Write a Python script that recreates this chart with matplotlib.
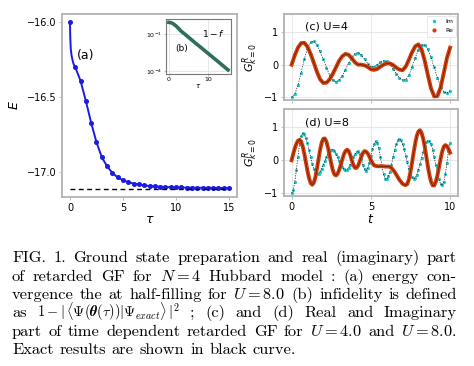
import numpy as np
import matplotlib.pyplot as plt
from matplotlib.lines import Line2D
from matplotlib.ticker import MultipleLocator, NullLocator

# ---- (a) energy convergence, U = 8 ----
tau = np.arange(0, 15.01, 0.5)
energy = [-16.00, -16.30, -16.39, -16.525, -16.67, -16.80, -16.90, -16.96,
          -17.005, -17.035, -17.053, -17.067, -17.076, -17.082, -17.088,
          -17.092, -17.095, -17.097, -17.099, -17.100, -17.101, -17.102,
          -17.103, -17.103, -17.104, -17.104, -17.104, -17.105, -17.105,
          -17.105, -17.106]
# extra read-off points of the solid curve near tau = 0
tau_head = [0.0, 0.03, 0.08, 0.15, 0.25, 0.35]
energy_head = [-16.00, -16.10, -16.18, -16.22, -16.255, -16.28]
e_exact = -17.11

# ---- (b) infidelity 1 - f ----
infidelity = [0.95, 0.90, 0.75, 0.58, 0.42, 0.29, 0.19, 0.141, 0.105, 0.076,
              0.056, 0.041, 0.030, 0.022, 0.016, 0.012, 0.0089, 0.0065,
              0.0048, 0.0035, 0.0026, 0.0019, 0.0014, 0.00103, 0.00076,
              0.00056, 0.00041, 0.00030, 0.00022, 0.00016, 0.00012]

# ---- (c) G^R_{k=0}(t), U = 4 ----
t_c = np.arange(0, 10.01, 0.2)
im_u4 = [-1.00, -0.90, -0.63, -0.24, 0.17, 0.50, 0.69, 0.71, 0.60, 0.41,
         0.16, -0.09, -0.32, -0.47, -0.52, -0.47, -0.34, -0.15, 0.05, 0.23,
         0.34, 0.37, 0.30, 0.17, 0.03, -0.06, -0.06, 0.00, 0.07, 0.12,
         0.10, 0.01, -0.12, -0.27, -0.40, -0.47, -0.46, -0.32, -0.07, 0.21,
         0.46, 0.60, 0.60, 0.47, 0.22, -0.08, -0.40, -0.67, -0.83, -0.87,
         -0.80]
re_u4 = [0.00, 0.29, 0.52, 0.66, 0.67, 0.55, 0.33, 0.06, -0.22, -0.45,
         -0.56, -0.55, -0.45, -0.28, -0.08, 0.12, 0.26, 0.33, 0.30, 0.19,
         0.07, 0.00, 0.00, -0.02, -0.07, -0.14, -0.16, -0.13, -0.06, 0.00,
         0.04, 0.04, -0.01, -0.09, -0.15, -0.17, -0.06, 0.15, 0.38, 0.56,
         0.62, 0.47, 0.12, -0.32, -0.73, -0.97, -0.96, -0.70, -0.26, 0.20,
         0.52]

# ---- (d) G^R_{k=0}(t), U = 8 ----
t_d = np.arange(0, 10.001, 0.1)
im_u8 = [-1.00, -0.91, -0.66, -0.29, 0.11, 0.48, 0.73, 0.82, 0.78, 0.67,
         0.51, 0.31, 0.09, -0.11, -0.27, -0.38, -0.42, -0.40, -0.34, -0.25,
         -0.14, -0.02, 0.10, 0.20, 0.28, 0.31, 0.32, 0.28, 0.20, 0.10,
         -0.01, -0.11, -0.21, -0.27, -0.30, -0.28, -0.22, -0.13, -0.02, 0.10,
         0.19, 0.25, 0.27, 0.19, 0.03, -0.14, -0.27, -0.31, -0.24, -0.08,
         0.12, 0.33, 0.49, 0.57, 0.53, 0.37, 0.11, -0.18, -0.42, -0.56,
         -0.57, -0.49, -0.34, -0.14, 0.09, 0.30, 0.48, 0.60, 0.64, 0.60,
         0.50, 0.34, 0.14, -0.06, -0.26, -0.42, -0.52, -0.56, -0.53, -0.44,
         -0.29, -0.11, 0.08, 0.26, 0.43, 0.54, 0.59, 0.58, 0.49, 0.32,
         0.09, -0.15, -0.39, -0.58, -0.72, -0.76, -0.67, -0.42, -0.07, 0.28,
         0.53]
re_u8 = [0.00, 0.19, 0.36, 0.50, 0.59, 0.62, 0.57, 0.42, 0.20, -0.06,
         -0.32, -0.54, -0.69, -0.74, -0.68, -0.51, -0.25, 0.04, 0.32, 0.54,
         0.65, 0.66, 0.56, 0.37, 0.14, -0.10, -0.30, -0.43, -0.46, -0.41,
         -0.29, -0.14, 0.03, 0.18, 0.28, 0.32, 0.28, 0.16, 0.00, -0.15,
         -0.23, -0.23, -0.16, -0.03, 0.11, 0.22, 0.28, 0.26, 0.21, 0.12,
         0.01, -0.08, -0.15, -0.17, -0.18, -0.18, -0.18, -0.18, -0.18, -0.19,
         -0.19, -0.19, -0.20, -0.23, -0.29, -0.35, -0.43, -0.51, -0.59, -0.65,
         -0.71, -0.74, -0.75, -0.72, -0.58, -0.35, -0.07, 0.23, 0.51, 0.74,
         0.87, 0.91, 0.83, 0.66, 0.41, 0.12, -0.19, -0.45, -0.65, -0.76,
         -0.76, -0.65, -0.46, -0.22, 0.04, 0.26, 0.41, 0.46, 0.43, 0.34,
         0.23]

INFID_EXPR = r'$1-|\,\langle\Psi(\boldsymbol{\theta}(\tau))|\Psi_{exact}\rangle\,|^2$'
caption = [
    ['FIG.', '1.', 'Ground', 'state', 'preparation', 'and', 'real', '(imaginary)', 'part'],
    ['of', 'retarded', 'GF', 'for', '$N=4$', 'Hubbard', 'model', ':', '(a)', 'energy', 'con-'],
    ['vergence', 'the', 'at', 'half-filling', 'for', '$U=8.0$', '(b)', 'infidelity', 'is', 'defined'],
    ['as', INFID_EXPR, ';', '(c)', 'and', '(d)', 'Real', 'and', 'Imaginary'],
    ['part', 'of', 'time', 'dependent', 'retarded', 'GF', 'for', '$U=4.0$', 'and', '$U=8.0$.'],
    ['Exact', 'results', 'are', 'shown', 'in', 'black', 'curve.'],
]

W, H = 474, 366
plt.rcParams['mathtext.fontset'] = 'dejavusans'
fig = plt.figure(figsize=(W / 100, H / 100), dpi=100)

SPINE = '#b2b2b2'
BLUE = '#1c1ce0'
CYAN = '#25c3c6'
ORANGE = '#cf3f0c'


def box(x0, y0, x1, y1):
    # pixel box (left, top, right, bottom) -> figure fraction
    return [x0 / W, 1 - y1 / H, (x1 - x0) / W, (y1 - y0) / H]


def style(ax, size=7):
    for s in ax.spines.values():
        s.set_color(SPINE)
        s.set_linewidth(1.3)
    ax.tick_params(length=2, width=0.6, color=SPINE, labelsize=size, pad=2)


# (a)
ax_a = fig.add_axes(box(62, 14, 237, 197))
style(ax_a)
ax_a.plot(tau_head + list(tau[1:]), energy_head + energy[1:], color=BLUE, lw=1.4)
ax_a.plot(tau, energy, 'o', color=BLUE, ms=2.6)
ax_a.plot([tau[0], tau[-1]], [e_exact, e_exact], '--', color='k', lw=1.0, dashes=(3.5, 2.5))
ax_a.yaxis.set_major_locator(MultipleLocator(0.5))
ax_a.xaxis.set_major_locator(MultipleLocator(5))
ax_a.set_xlabel(r'$\tau$', fontsize=9, labelpad=0)
ax_a.set_ylabel('$E$', fontsize=9, labelpad=4)
ax_a.text(0.085, 0.775, '(a)', transform=ax_a.transAxes, fontsize=9, va='center')

# (b) inset
ax_b = fig.add_axes(box(166, 19, 231, 74))
style(ax_b, 4.5)
for s in ax_b.spines.values():
    s.set_color('#777777')
    s.set_linewidth(0.8)
ax_b.grid(True, color='#dddddd', lw=0.5)
ax_b.semilogy(tau, infidelity, color='#2e6e60', lw=2.6)
ax_b.set_ylim(5.5e-5, 1.8)
ax_b.set_yticks([1e-1, 1e-4])
ax_b.yaxis.set_minor_locator(NullLocator())
ax_b.set_xticks([0, 10])
ax_b.tick_params(length=1.5, pad=1)
ax_b.set_xlabel(r'$\tau$', fontsize=5, labelpad=0)
ax_b.text(0.14, 0.47, '(b)', transform=ax_b.transAxes, fontsize=6.5, va='center')
ax_b.text(0.55, 0.73, '$1-f$', transform=ax_b.transAxes, fontsize=6.5, va='center')

# (c) and (d)
ax_c = fig.add_axes(box(283.7, 14, 458, 100))
ax_d = fig.add_axes(box(283.7, 109, 458, 196))
panels = [(ax_c, t_c, im_u4, re_u4, '(c) U=4'), (ax_d, t_d, im_u8, re_u8, '(d) U=8')]
for ax, t, im, re, name in panels:
    style(ax)
    ax.grid(True, color='#e3e3e3', lw=0.6)
    ax.plot(t, im, '.', color=CYAN, ms=2.6, label='Im')
    ax.plot(t, im, color='k', lw=0.45, dashes=(2, 2))
    ax.plot(t, re, '-', color=ORANGE, lw=2.8)
    ax.plot(t, re, color='#3a0a00', lw=0.35)
    ax.set_xlim(-0.5, 10.5)
    ax.set_ylim(-1.08, 1.55)
    ax.set_yticks([-1, 0, 1])
    ax.set_xticks([0, 5, 10])
    ax.set_ylabel('$G^R_{k=0}$', fontsize=8, labelpad=3)
    ax.text(0.12, 0.85, name, transform=ax.transAxes, fontsize=8, va='center')
ax_c.tick_params(labelbottom=False)
ax_d.set_xlabel('$t$', fontsize=9, labelpad=1)

handles = [Line2D([], [], ls='none', marker='.', color=CYAN, ms=3, label='Im'),
           Line2D([], [], ls='none', marker='.', color=ORANGE, ms=4, label='Re')]
leg = ax_c.legend(handles=handles, loc='upper right', fontsize=4.5, handlelength=1.2,
                  handletextpad=1.2, borderpad=0.5, labelspacing=0.6,
                  borderaxespad=0.3, framealpha=1)
leg.get_frame().set_edgecolor('#dddddd')
leg.get_frame().set_linewidth(0.5)

# caption, justified line by line
CAP_FS = 11.8
MIN_GAP = 6.0
renderer = fig.canvas.get_renderer()
x_left, x_right = 12, 457
baselines = [262.3, 280.7, 299.0, 317.3, 335.7, 354.0]
for k, (words, yb) in enumerate(zip(caption, baselines)):
    sizes = [CAP_FS * (0.87 if w == INFID_EXPR else 1.0) for w in words]
    texts = [fig.text(0, 1 - yb / H, w, fontsize=fs, family=['cmr10', 'DejaVu Serif'],
                      math_fontfamily='cm', va='baseline') for w, fs in zip(words, sizes)]
    widths = [tx.get_window_extent(renderer).width for tx in texts]
    avail = x_right - x_left
    if k < len(caption) - 1:
        gap = (avail - sum(widths)) / (len(words) - 1)
        if gap < MIN_GAP:
            # squeeze this line a little so the words keep a visible space
            scale = (avail - MIN_GAP * (len(words) - 1)) / sum(widths)
            for tx, fs in zip(texts, sizes):
                tx.set_fontsize(fs * scale)
            widths = [tx.get_window_extent(renderer).width for tx in texts]
            gap = (avail - sum(widths)) / (len(words) - 1)
    else:
        gap = 5.8
    x = x_left
    for tx, wd in zip(texts, widths):
        tx.set_x(x / W)
        x += wd + gap

fig.savefig('out.png', dpi=100)
